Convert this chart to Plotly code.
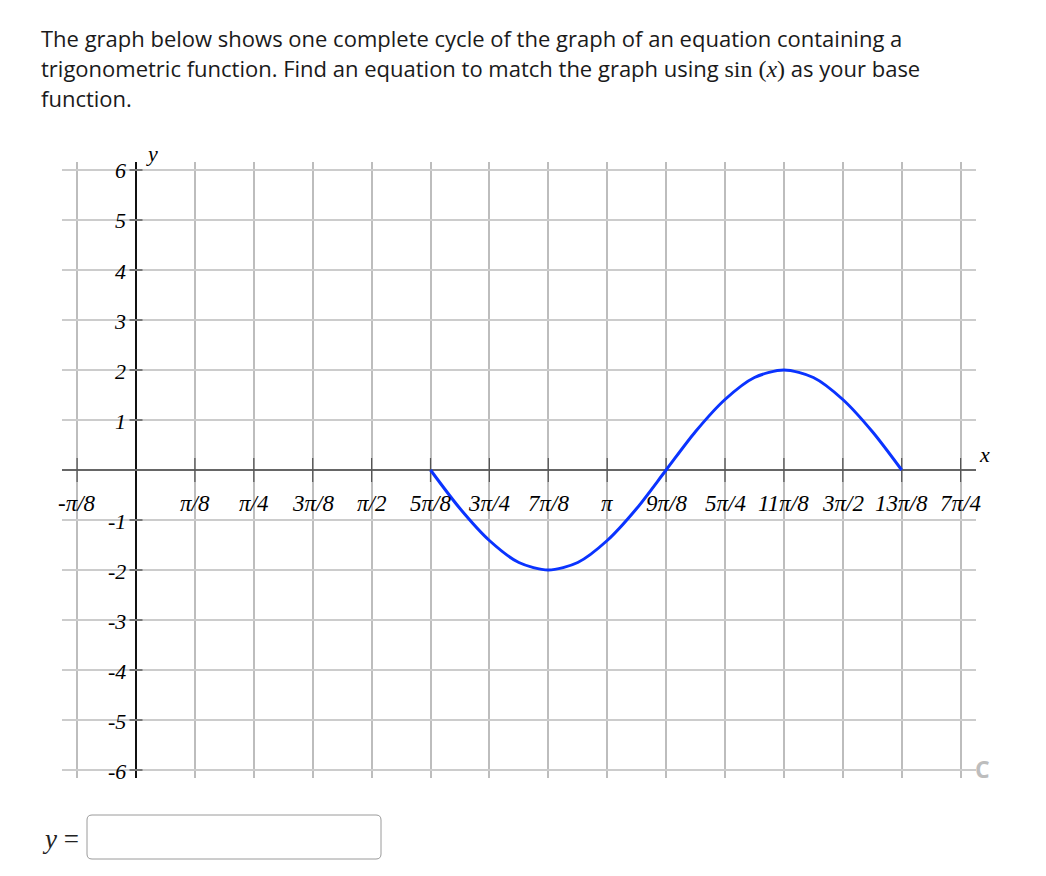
import math
import plotly.graph_objects as go

W, H = 1046, 876
PI = math.pi

# ---- data ----
curve_x_sixteenths = [10, 11, 12, 13, 14, 15, 16, 17, 18, 19, 20, 21, 22, 23, 24, 25, 26]   # multiples of pi/16
curve_y = [0, -0.77, -1.41, -1.85, -2, -1.85, -1.41, -0.77, 0, 0.77, 1.41, 1.85, 2, 1.85, 1.41, 0.77, 0]

x_tick_eighths = [-1, 1, 2, 3, 4, 5, 6, 7, 8, 9, 10, 11, 12, 13, 14]
x_tick_labels = ["-π/8", "π/8", "π/4", "3π/8", "π/2", "5π/8", "3π/4", "7π/8", "π",
                 "9π/8", "5π/4", "11π/8", "3π/2", "13π/8", "7π/4"]
y_tick_vals = [-6, -5, -4, -3, -2, -1, 1, 2, 3, 4, 5, 6]
y_tick_labels = ["-6", "-5", "-4", "-3", "-2", "-1", "1", "2", "3", "4", "5", "6"]

question_lines = [
    "The graph below shows one complete cycle of the graph of an equation containing a",
    "trigonometric function. Find an equation to match the graph using "
    "<span style='font-family:Liberation Serif;font-size:24px'>sin (<i>x</i>)</span> as your base",
    "function.",
]

# ---- layout geometry (pixels) ----
px_left, px_right = 62, 976
px_top, px_bottom = 162, 778
px_x0, px_per_eighth = 136, 58.9
px_y0, px_per_unit = 470, 50

x_range = [(px_left - px_x0) / px_per_eighth * PI / 8, (px_right - px_x0) / px_per_eighth * PI / 8]
y_range = [-(px_bottom - px_y0) / px_per_unit, (px_y0 - px_top) / px_per_unit]

def px(xp):
    return xp / W

def py(yp):
    return 1 - yp / H

SERIF = "Liberation Serif"

fig = go.Figure()
fig.add_trace(go.Scatter(
    x=[k * PI / 16 for k in curve_x_sixteenths], y=curve_y,
    mode="lines", line=dict(color="#0a33ff", width=3, shape="spline", smoothing=0.8),
    hoverinfo="skip", showlegend=False,
))

all_x_grid = [k * PI / 8 for k in range(-1, 15)]

shapes = []
# x-axis tick marks
for k in x_tick_eighths:
    shapes.append(dict(type="line", xref="x", yref="y", x0=k * PI / 8, x1=k * PI / 8,
                       y0=-0.24, y1=0.24, line=dict(color="#555555", width=1.2), layer="between"))
# y-axis tick marks
dx = 6.5 / px_per_eighth * PI / 8
for v in y_tick_vals:
    shapes.append(dict(type="line", xref="x", yref="y", x0=-dx, x1=dx, y0=v, y1=v,
                       line=dict(color="#777777", width=2), layer="between"))

# answer input box with rounded corners
bx0, bx1, by0, by1 = px(87), px(381), py(859), py(815)
rx, ry = 5 / W, 5 / H
path = (f"M {bx0+rx},{by0} L {bx1-rx},{by0} Q {bx1},{by0} {bx1},{by0+ry} "
        f"L {bx1},{by1-ry} Q {bx1},{by1} {bx1-rx},{by1} L {bx0+rx},{by1} "
        f"Q {bx0},{by1} {bx0},{by1-ry} L {bx0},{by0+ry} Q {bx0},{by0} {bx0+rx},{by0} Z")
shapes.append(dict(type="path", xref="paper", yref="paper", path=path,
                   line=dict(color="#9a9a9a", width=1), fillcolor="white"))

annotations = []
for k, lab in zip(x_tick_eighths, x_tick_labels):
    annotations.append(dict(x=k * PI / 8, y=0, xref="x", yref="y", text=f"<i>{lab}</i>",
                            showarrow=False, yshift=-33, xanchor="center", yanchor="middle",
                            font=dict(family=SERIF, size=23, color="#000")))
for v, lab in zip(y_tick_vals, y_tick_labels):
    annotations.append(dict(x=px(128), y=v, xref="paper", yref="y", text=f"<i>{lab}</i>",
                            showarrow=False, xanchor="right", yanchor="middle", yshift=-1,
                            font=dict(family=SERIF, size=22, color="#000")))
# axis names
annotations.append(dict(x=px(152), y=py(154), xref="paper", yref="paper", text="<i>y</i>",
                        showarrow=False, xanchor="center", yanchor="middle",
                        font=dict(family=SERIF, size=22, color="#000")))
annotations.append(dict(x=px(984), y=py(454), xref="paper", yref="paper", text="<i>x</i>",
                        showarrow=False, xanchor="center", yanchor="middle",
                        font=dict(family=SERIF, size=22, color="#000")))
# question text
for i, line in enumerate(question_lines):
    annotations.append(dict(x=px(39), y=py(38 + 30 * i), xref="paper", yref="paper", text=line,
                            showarrow=False, xanchor="left", yanchor="middle", align="left",
                            font=dict(family="Open Sans", size=22, color="#1a1a1a")))
# answer label
annotations.append(dict(x=px(81), y=py(839), xref="paper", yref="paper",
                        text="<i>y</i> =", showarrow=False, xanchor="right", yanchor="middle",
                        font=dict(family=SERIF, size=27, color="#222")))
# faint icon at bottom-right
annotations.append(dict(x=px(982), y=py(769), xref="paper", yref="paper", text="<b>C</b>",
                        showarrow=False, xanchor="center", yanchor="middle",
                        font=dict(family="Open Sans", size=23, color="#bdbdbd")))

fig.update_layout(
    width=W, height=H, margin=dict(l=0, r=0, t=0, b=0),
    paper_bgcolor="white", plot_bgcolor="white",
    xaxis=dict(domain=[px(px_left), px(px_right)], range=x_range, tickvals=all_x_grid,
               showticklabels=False, ticks="", showgrid=True, gridcolor="#bdbdbd", gridwidth=1.5,
               zeroline=True, zerolinecolor="#111111", zerolinewidth=1.5, showline=False, fixedrange=True),
    yaxis=dict(domain=[py(px_bottom), py(px_top)], range=y_range, tickvals=list(range(-6, 7)),
               showticklabels=False, ticks="", showgrid=True, gridcolor="#cccccc", gridwidth=2,
               zeroline=True, zerolinecolor="#666666", zerolinewidth=2, showline=False, fixedrange=True),
    shapes=shapes, annotations=annotations, showlegend=False,
)

fig.write_html("out.html")
